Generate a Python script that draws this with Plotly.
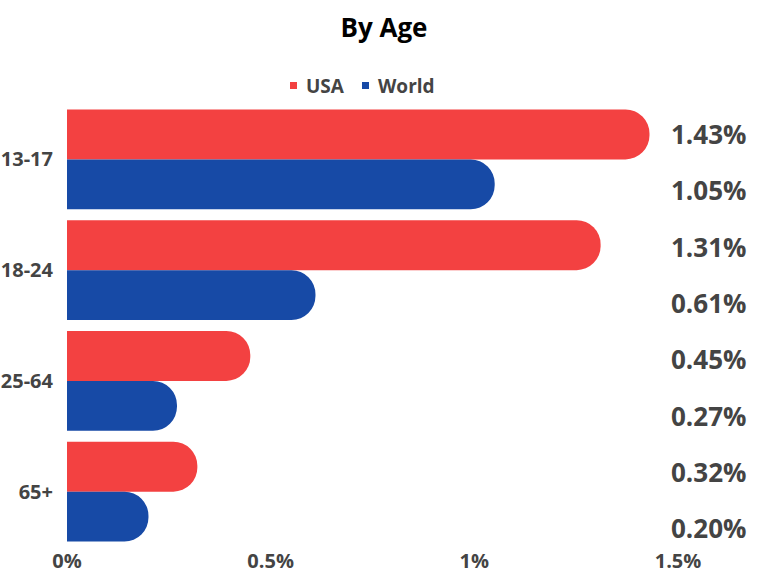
import plotly.graph_objects as go

# data
ages = ["13-17", "18-24", "25-64", "65+"]
usa = [1.43, 1.31, 0.45, 0.32]
world = [1.05, 0.61, 0.27, 0.20]
series_names = ["USA", "World"]
tick_vals = [0, 0.5, 1, 1.5]
tick_text = ["0%", "0.5%", "1%", "1.5%"]

red = "#F34141"
blue = "#174AA6"
grey = "#444444"
font_name = "Open Sans"

W, H = 768, 576
ML, MR, MT, MB = 67, 90, 104, 29
plot_w = W - ML - MR
plot_h = H - MT - MB


def px_x(px):
    return (px - ML) / plot_w


def px_y(py):
    return (H - MB - py) / plot_h


fig = go.Figure()
fig.add_trace(go.Bar(y=ages, x=usa, name=series_names[0], orientation="h",
                     marker=dict(color=red, cornerradius=24, line=dict(width=0))))
fig.add_trace(go.Bar(y=ages, x=world, name=series_names[1], orientation="h",
                     marker=dict(color=blue, cornerradius=24, line=dict(width=0))))

# value labels stacked evenly down the right side
labels = []
for u, w in zip(usa, world):
    labels.append("%.2f%%" % u)
    labels.append("%.2f%%" % w)
for k, lab in enumerate(labels):
    fig.add_annotation(xref="paper", yref="paper", x=1, xanchor="right", xshift=70,
                       y=px_y(134 + k * 56.3), yanchor="middle",
                       text=lab, showarrow=False,
                       font=dict(family=font_name, size=26, color=grey, weight="bold"))

# hand made legend: small squares + names
legend_items = [(series_names[0], red, 290, 304), (series_names[1], blue, 362, 376)]
for name, col, sq_x, txt_x in legend_items:
    fig.add_shape(type="rect", xref="paper", yref="paper",
                  x0=px_x(sq_x), x1=px_x(sq_x + 7), y0=px_y(89), y1=px_y(82),
                  fillcolor=col, line=dict(width=0))
    fig.add_annotation(xref="paper", yref="paper", x=px_x(txt_x), xanchor="left",
                       y=px_y(86), yanchor="middle", text=name, showarrow=False,
                       font=dict(family=font_name, size=19, color=grey, weight="bold"))

fig.update_layout(
    width=W, height=H,
    paper_bgcolor="white", plot_bgcolor="white",
    margin=dict(l=ML, r=MR, t=MT, b=MB),
    barmode="group", bargap=0.1, bargroupgap=0,
    showlegend=False,
    title=dict(text="By Age", x=0.5, xanchor="center", y=0.951, yanchor="middle",
               font=dict(family=font_name, size=26, color="black", weight="bold")),
    xaxis=dict(range=[0, 1.5], tickvals=tick_vals, ticktext=tick_text,
               showgrid=False, zeroline=False, showline=False, automargin=False,
               tickfont=dict(family=font_name, size=20, color=grey, weight="bold")),
    yaxis=dict(autorange="reversed", showgrid=False, showline=False,
               ticks="", ticklabelstandoff=13, automargin=False,
               tickfont=dict(family=font_name, size=20, color=grey, weight="bold")),
)

fig.write_html("out.html", config={"displayModeBar": False},
               post_script="document.body.style.margin = '0';")
